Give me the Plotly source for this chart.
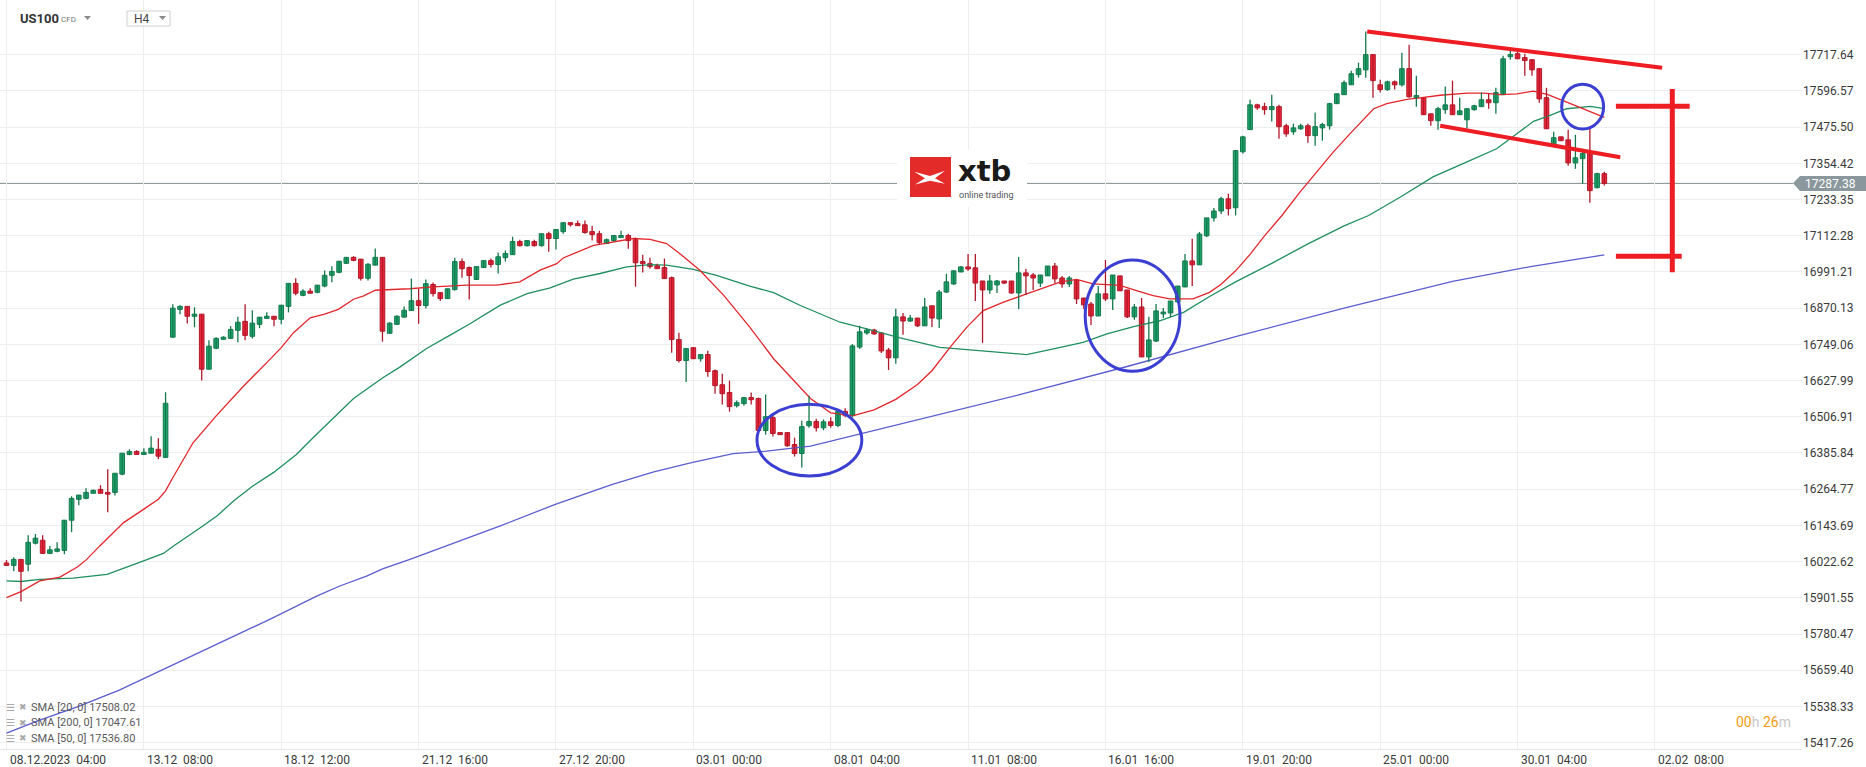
import plotly.graph_objects as go

# ---------------- DATA ----------------
open_ = [16018,16010,16030,16014,16084,16094,16050,16057,16060,16161,
         16231,16234,16251,16264,16254,16254,16315,16381,16391,16381,
         16385,16398,16371,16773,16866,16876,16843,16850,16666,16736,
         16766,16769,16796,16826,16776,16816,16836,16843,16833,16876,
         16953,16913,16927,16923,16944,16980,16990,17020,17040,17034,
         16970,17014,17040,16786,16816,16840,16862,16895,16879,16949,
         16922,16902,16932,17026,17006,16966,17006,17029,17016,17039,
         17049,17093,17079,17093,17079,17119,17103,17126,17156,17153,
         17149,17126,17119,17086,17096,17106,17113,17099,17026,17019,
         17012,17006,16972,16765,16695,16738,16701,16715,16661,16614,
         16588,16544,16551,16571,16568,16461,16504,16454,16454,16414,
         16384,16477,16491,16470,16490,16478,16525,16512,16740,16787,
         16797,16787,16730,16704,16841,16827,16837,16811,16878,16834,
         16924,16951,16991,17008,17005,16961,16931,16948,16961,16961,
         16921,16988,16981,16954,16978,17011,16971,16951,16964,16904,
         16884,16844,16918,16901,16978,16931,16841,16874,16707,16760,
         16851,16854,16891,16941,17028,17015,17112,17172,17195,17236,
         17206,17393,17467,17550,17544,17534,17544,17480,17460,17470,
         17480,17447,17473,17480,17554,17584,17617,17651,17667,17718,
         17617,17601,17627,17617,17671,17574,17574,17520,17497,17534,
         17550,17517,17500,17534,17544,17567,17557,17584,17711,17721,
         17708,17701,17671,17574,17413,17443,17433,17356,17370,17390,
         17273,17320]
high = [16028,16037,16030,16111,16115,16111,16075,16087,16161,16241,
        16245,16268,16264,16278,16331,16318,16385,16398,16395,16402,
        16442,16435,16589,16883,16880,16876,16873,16850,16763,16773,
        16776,16810,16841,16883,16863,16840,16856,16843,16880,16953,
        16970,16933,16937,16947,16996,17010,17027,17040,17044,17034,
        17020,17070,17040,16823,16846,16876,16969,16935,16966,16956,
        16922,16935,17039,17036,17009,17009,17029,17036,17056,17063,
        17109,17099,17096,17099,17119,17126,17133,17156,17156,17163,
        17163,17146,17129,17103,17113,17129,17119,17106,17049,17039,
        17019,17036,16976,16788,16735,16738,16715,16728,16665,16651,
        16628,16561,16571,16588,16571,16581,16514,16454,16454,16437,
        16494,16577,16500,16498,16505,16530,16535,16750,16811,16801,
        16801,16787,16737,16868,16854,16847,16837,16904,16878,16931,
        16985,16995,17011,17051,17051,16961,16981,16964,16961,16961,
        17041,17001,16988,16981,17011,17021,16978,16978,16964,16904,
        16891,16944,17031,16981,16978,16931,16884,16904,16841,16884,
        16871,16894,16944,17051,17102,17125,17172,17205,17243,17253,
        17397,17447,17567,17554,17557,17584,17550,17487,17487,17487,
        17487,17524,17490,17557,17587,17631,17664,17691,17795,17718,
        17634,17631,17631,17724,17751,17647,17574,17520,17544,17611,
        17631,17574,17537,17550,17591,17587,17607,17714,17731,17731,
        17721,17701,17671,17607,17460,17443,17467,17450,17403,17470,
        17323,17326]
low = [16010,15990,15889,15990,16080,16050,16050,16054,16047,16121,
       16211,16231,16251,16251,16188,16244,16311,16378,16381,16381,
       16385,16365,16371,16773,16850,16819,16806,16628,16666,16733,
       16766,16769,16756,16763,16769,16803,16836,16810,16816,16856,
       16913,16910,16920,16920,16940,16957,16987,17020,17027,16963,
       16963,17014,16758,16786,16816,16840,16862,16818,16869,16909,
       16895,16902,16929,16972,16899,16966,17006,17006,16986,17026,
       17049,17076,17076,17076,17076,17059,17066,17119,17143,17146,
       17119,17096,17083,17086,17093,17106,17069,16942,16989,17002,
       17002,16969,16721,16688,16623,16701,16691,16641,16584,16548,
       16524,16538,16544,16548,16461,16447,16441,16447,16407,16374,
       16337,16470,16458,16462,16470,16472,16505,16505,16734,16781,
       16781,16720,16663,16684,16781,16824,16807,16811,16807,16804,
       16921,16948,16991,16995,16894,16754,16918,16921,16951,16918,
       16867,16914,16931,16941,16978,16954,16938,16941,16884,16867,
       16814,16844,16894,16864,16928,16837,16831,16707,16690,16757,
       16837,16841,16891,16941,16944,17015,17108,17160,17185,17180,
       17180,17387,17467,17534,17517,17494,17437,17443,17450,17467,
       17423,17413,17430,17467,17554,17584,17617,17641,17641,17574,
       17591,17597,17601,17611,17574,17544,17517,17480,17467,17520,
       17517,17517,17470,17530,17544,17537,17520,17584,17701,17704,
       17647,17647,17557,17470,17413,17430,17346,17336,17286,17223,
       17270,17280]
close = [16010,16030,15990,16087,16101,16050,16062,16065,16161,16234,
         16245,16254,16261,16251,16248,16318,16385,16391,16381,16388,
         16402,16375,16552,16870,16876,16843,16850,16666,16743,16769,
         16773,16799,16823,16779,16820,16840,16843,16833,16880,16953,
         16920,16927,16920,16947,16980,16993,17027,17040,17030,16970,
         17017,17040,16793,16820,16843,16863,16895,16879,16952,16919,
         16902,16935,17026,17002,16979,17009,17029,17016,17042,17053,
         17093,17079,17096,17079,17119,17103,17133,17156,17149,17146,
         17123,17116,17089,17099,17113,17113,17096,17022,17019,17009,
         17002,16969,16765,16695,16735,16701,16715,16658,16611,16584,
         16541,16554,16571,16564,16461,16507,16451,16447,16410,16384,
         16474,16491,16470,16490,16478,16525,16512,16744,16791,16797,
         16784,16727,16704,16841,16827,16837,16811,16874,16837,16924,
         16958,16995,17008,17001,16954,16931,16961,16961,16954,16921,
         16988,16978,16971,16981,17011,16968,16951,16971,16901,16881,
         16844,16918,16901,16981,16928,16841,16874,16707,16764,16861,
         16857,16894,16944,17028,17015,17118,17172,17195,17236,17203,
         17397,17443,17550,17540,17534,17544,17477,17453,17473,17480,
         17447,17477,17484,17554,17587,17624,17654,17671,17718,17631,
         17601,17627,17617,17671,17577,17581,17517,17497,17537,17550,
         17517,17530,17537,17547,17567,17557,17591,17704,17718,17704,
         17698,17667,17570,17470,17440,17430,17356,17373,17387,17263,
         17320,17287.38]

# moving averages, sampled along the candle index
sma20_x = [0,2,4.6,7.4,9.9,11.1,12.9,16.2,19,21,22,23,25.8,29,32.8,34.1,36,38,39.7,42,44,45.9,48,49.4,51,
           55.8,59,63.7,67.8,71,73.8,76.1,77,81.2,84.4,86.7,89,91.3,93.1,95.9,99.2,102.8,106.1,109.8,111.2,
           114,117,120,123,126,128,130.5,132.8,135.1,137.9,141.1,143,145.7,148,150.3,152.2,154,156.3,158.6,
           160.9,164.1,166.4,168,170,172,174,176.4,178.9,181.2,183.5,185.8,189.1,190.9,193.7,195.5,198.3,
           202,204.3,206.6,208.9,211.2,213.1,215.8,218.6,221]
sma20_y = [15902,15922,15958,15971,16006,16030,16075,16153,16198,16231,16259,16303,16420,16510,16610,16643,16688,
           16738,16788,16838,16850,16866,16900,16911,16930,
           16935,16941,16947,16947,16958,16997,17019,17038,17080,17094,17103,17100,17086,17053,16997,16913,16807,
           16701,16607,16568,
           16520,16510,16530,16565,16615,16661,16739,16806,16862,16890,16918,16934,16957,16966,16951,16949,16946,
           16929,16912,16901,16901,16923,16950,16995,17050,17112,17180,17258,17325,17392,17453,17537,17554,17568,
           17573,17582,17589,17589,17584,17587,17596,17585,17559,17531,17508]
sma50_x = [0,2,4.6,9.2,13.9,15.9,18.5,21.7,23.1,26.8,29.1,31.4,34.1,36.9,40.1,42.4,45.7,48,49.8,52.1,54.4,
           58.1,61.3,64.1,68.3,72,75.2,78.4,82.1,85.8,89,91.3,95,98.2,102.8,106.1,109.8,115.3,119,123.6,129.1,
           133.7,141.1,144.8,148.9,152.2,155.9,159.5,162.8,166.4,170,175,180,185,188.4,192.8,197.3,202,206.1,
           208.9,211.2,213.5,215.8,219.1,221]
sma50_y = [15958,15956,15963,15967,15980,15997,16021,16050,16075,16136,16175,16225,16276,16320,16381,16437,16515,
           16568,16599,16638,16673,16735,16779,16818,16880,16919,16938,16967,16986,17008,17016,17014,17000,16980,
           16944,16922,16879,16823,16801,16771,16739,16730,16715,16734,16756,16784,16808,16828,16856,16909,16958,
           17020,17085,17145,17180,17242,17309,17359,17403,17453,17495,17515,17537,17545,17537]
sma200_x = [0,4.4,9.7,15.6,25,36.2,42.9,46.1,49.8,52.1,55.8,68.3,76,83.7,89.4,94.9,100.5,105.1,111.2,125,140,
            155,170,185,200,211,221]
sma200_y = [15449,15491,15536,15593,15700,15827,15907,15941,15974,15999,16030,16142,16215,16280,16322,16354,16384,
            16392,16409,16490,16580,16675,16775,16870,16960,17010,17048]

x_labels = ["08.12.2023  04:00", "13.12  08:00", "18.12  12:00", "21.12  16:00", "27.12  20:00",
            "03.01  00:00", "08.01  04:00", "11.01  08:00", "16.01  16:00", "19.01  20:00",
            "25.01  00:00", "30.01  04:00", "02.02  08:00"]
label_every = 19
y_ticks = [17717.64, 17596.57, 17475.50, 17354.42, 17233.35, 17112.28, 16991.21, 16870.13, 16749.06,
           16627.99, 16506.91, 16385.84, 16264.77, 16143.69, 16022.62, 15901.55, 15780.47, 15659.40,
           15538.33, 15417.26]
last_price = 17287.38
legend_names = ["SMA [20, 0]", "SMA [200, 0]", "SMA [50, 0]"]
legend_values = [17508.02, 17047.61, 17536.80]

# ---------------- LAYOUT GEOMETRY ----------------
W, H = 1866, 767
PW, PH = 1802, 749          # plot area in pixels
X_RANGE = [-0.9, 248.34]
Y_RANGE = [15395.9, 17900.6]

def px(x):
    return x / PW

def py(y):
    return 1 - y / PH

UP_FILL, UP_EDGE = "#1ea66d", "#14784c"
DN_FILL, DN_EDGE = "#f0263a", "#b0192a"
RED_MARK = "#ee1d23"
BLUE_MARK = "#3b3fd1"
GRID = "#eeeeee"
FONT = "Roboto"

fig = go.Figure()

# moving averages
fig.add_trace(go.Scatter(x=sma200_x, y=sma200_y, mode="lines", line=dict(color="#5a5ecf", width=1.3),
                         hoverinfo="skip"))
fig.add_trace(go.Scatter(x=sma50_x, y=sma50_y, mode="lines", line=dict(color="#1f8f5f", width=1.3),
                         hoverinfo="skip"))
fig.add_trace(go.Scatter(x=sma20_x, y=sma20_y, mode="lines", line=dict(color="#e3262b", width=1.3),
                         hoverinfo="skip"))

idx = list(range(len(close)))
up = [i for i in idx if close[i] >= open_[i]]
dn = [i for i in idx if close[i] < open_[i]]

def wicks(ids):
    xs, ys = [], []
    for i in ids:
        xs += [i, i, None]
        ys += [low[i], high[i], None]
    return xs, ys

MINH = 2.5
def bodies(ids):
    base = [min(open_[i], close[i]) for i in ids]
    hgt = [max(abs(close[i] - open_[i]), MINH) for i in ids]
    return base, hgt

for ids, edge, fill in [(up, UP_EDGE, UP_FILL), (dn, DN_EDGE, DN_FILL)]:
    wx, wy = wicks(ids)
    fig.add_trace(go.Scatter(x=wx, y=wy, mode="lines", line=dict(color=edge, width=1.3), hoverinfo="skip"))
for ids, edge, fill in [(up, UP_EDGE, UP_FILL), (dn, DN_EDGE, DN_FILL)]:
    b, h = bodies(ids)
    fig.add_trace(go.Bar(x=ids, y=h, base=b, width=0.64,
                         marker=dict(color=fill, line=dict(color=edge, width=1)), hoverinfo="skip"))

shapes = []
# last price line
shapes.append(dict(type="line", xref="paper", yref="y", x0=0, x1=px(1793), y0=last_price, y1=last_price,
                   line=dict(color="#7f8c8f", width=1), layer="below"))

# hand-drawn markings (in chart coordinates)
red_lines = [(188.2, 17795, 229.0, 17674, 4), (198.3, 17480, 223.2, 17375, 4),
             (230.4, 16990, 230.4, 17603, 5), (222.6, 17545, 232.8, 17545, 5),
             (222.6, 17044, 231.7, 17044, 5)]
for x0, y0, x1, y1, w in red_lines:
    shapes.append(dict(type="line", xref="x", yref="y", x0=x0, y0=y0, x1=x1, y1=y1,
                       line=dict(color=RED_MARK, width=w)))
ovals = [(103.8, 16309, 118.3, 16549), (149.2, 16659, 162.3, 17031), (215.1, 17469, 220.9, 17619)]
for x0, y0, x1, y1 in ovals:
    shapes.append(dict(type="circle", xref="x", yref="y", x0=x0, y0=y0, x1=x1, y1=y1,
                       line=dict(color=BLUE_MARK, width=3)))

# xtb logo
shapes.append(dict(type="rect", xref="paper", yref="paper", x0=px(897), x1=px(1027), y0=py(207), y1=py(150),
                   fillcolor="white", line=dict(width=0), layer="above"))
shapes.append(dict(type="rect", xref="paper", yref="paper", x0=px(910), x1=px(951), y0=py(197), y1=py(157),
                   fillcolor="#e32c2a", line=dict(width=0), layer="above"))
xpts = [(914.3, 171.7), (930, 176), (945, 170.7), (935, 178.3), (945, 183.8), (930, 180.7), (915, 184.5),
        (925, 178.3)]
path = "M " + " L ".join(f"{px(a):.5f},{py(b):.5f}" for a, b in xpts) + " Z"
shapes.append(dict(type="path", xref="paper", yref="paper", path=path, fillcolor="white",
                   line=dict(width=0), layer="above"))

# price tag on the right
tag = [(1793, 183.3), (1800, 176), (1866, 176), (1866, 191), (1800, 191)]
shapes.append(dict(type="path", xref="paper", yref="paper",
                   path="M " + " L ".join(f"{px(a):.5f},{py(b):.5f}" for a, b in tag) + " Z",
                   fillcolor="#8a979c", line=dict(width=0), layer="above"))

# header widgets
def tri(x, y, w=7, h=4):
    return "M {:.5f},{:.5f} L {:.5f},{:.5f} L {:.5f},{:.5f} Z".format(
        px(x), py(y), px(x + w), py(y), px(x + w / 2), py(y + h))
shapes.append(dict(type="path", xref="paper", yref="paper", path=tri(84, 16), fillcolor="#8c8c8c",
                   line=dict(width=0), layer="above"))
shapes.append(dict(type="rect", xref="paper", yref="paper", x0=px(127), x1=px(170), y0=py(26), y1=py(11),
                   fillcolor="white", line=dict(color="#d0d0d0", width=1), layer="above"))
shapes.append(dict(type="path", xref="paper", yref="paper", path=tri(159, 16), fillcolor="#8c8c8c",
                   line=dict(width=0), layer="above"))

ann = []
for k, lab in enumerate(x_labels):
    ann.append(dict(x=k * label_every, y=py(760), xref="x", yref="paper", text=lab.replace(" ", "\u00a0"),
                    showarrow=False, xanchor="left", yanchor="middle", xshift=1,
                    font=dict(family=FONT, size=12, color="#3a3a3a")))
ann.append(dict(x=px(957), y=py(189.5), xref="paper", yref="paper", text="<b>xtb</b>", showarrow=False,
                xanchor="left", yanchor="bottom", borderpad=0,
                font=dict(family="DejaVu Sans", size=29, color="#1a1a1a")))
ann.append(dict(x=px(958), y=py(189.5), xref="paper", yref="paper", text="online trading", showarrow=False,
                xanchor="left", yanchor="top", borderpad=0,
                font=dict(family=FONT, size=9, color="#555555")))
ann.append(dict(x=px(1802), y=py(183.5), xref="paper", yref="paper", text=f"{last_price:.2f}",
                showarrow=False, xanchor="left", yanchor="middle", xshift=1,
                font=dict(family=FONT, size=12, color="white")))
ann.append(dict(x=px(1734), y=py(722), xref="paper", yref="paper",
                text="<span style='color:#f39c12'>00</span><span style='color:#c8c8c8'>h</span> "
                     "<span style='color:#f39c12'>26</span><span style='color:#c8c8c8'>m</span>",
                showarrow=False, xanchor="left", yanchor="middle", font=dict(family=FONT, size=14)))
ann.append(dict(x=px(18), y=py(19), xref="paper", yref="paper", text="<b>US100</b>", showarrow=False,
                xanchor="left", yanchor="middle", font=dict(family=FONT, size=13, color="#333333")))
ann.append(dict(x=px(59), y=py(19.5), xref="paper", yref="paper", text="CFD", showarrow=False,
                xanchor="left", yanchor="middle", font=dict(family=FONT, size=8, color="#777777")))
ann.append(dict(x=px(132), y=py(19.5), xref="paper", yref="paper", text="H4", showarrow=False,
                xanchor="left", yanchor="middle", font=dict(family=FONT, size=12, color="#444444")))
for k, (nm, v) in enumerate(zip(legend_names, legend_values)):
    yy = 707 + k * 15.5
    ann.append(dict(x=px(4), y=py(yy), xref="paper", yref="paper", text="\u2630", showarrow=False,
                    xanchor="left", yanchor="middle", font=dict(family="DejaVu Sans", size=10, color="#a8a8a8")))
    ann.append(dict(x=px(17), y=py(yy), xref="paper", yref="paper", text="\u2716", showarrow=False,
                    xanchor="left", yanchor="middle", font=dict(family="DejaVu Sans", size=9, color="#a8a8a8")))
    ann.append(dict(x=px(29), y=py(yy), xref="paper", yref="paper", text=f"{nm} {v:.2f}", showarrow=False,
                    xanchor="left", yanchor="middle", font=dict(family=FONT, size=11, color="#5a5a5a")))

fig.update_layout(
    width=W, height=H, autosize=False,
    margin=dict(l=0, r=W - PW, t=0, b=H - PH, pad=0),
    paper_bgcolor="white", plot_bgcolor="white",
    showlegend=False, barmode="overlay",
    shapes=shapes, annotations=ann,
    font=dict(family=FONT),
    xaxis=dict(range=X_RANGE, tickvals=[k * label_every for k in range(len(x_labels))],
               showticklabels=False, showgrid=True, gridcolor=GRID, gridwidth=1, zeroline=False,
               showline=True, linecolor="#e6e6e6", ticks="", automargin=False, fixedrange=True),
    yaxis=dict(range=Y_RANGE, side="right", tickvals=y_ticks, ticktext=[f"{v:.2f}" for v in y_ticks],
               showgrid=True, gridcolor=GRID, gridwidth=1, zeroline=False, ticks="",
               tickfont=dict(family=FONT, size=12, color="#3a3a3a"), automargin=False, fixedrange=True),
)

fig.write_html("out.html", config={"displayModeBar": False},
               post_script="document.body.style.margin='0px';document.body.style.padding='0px';")
